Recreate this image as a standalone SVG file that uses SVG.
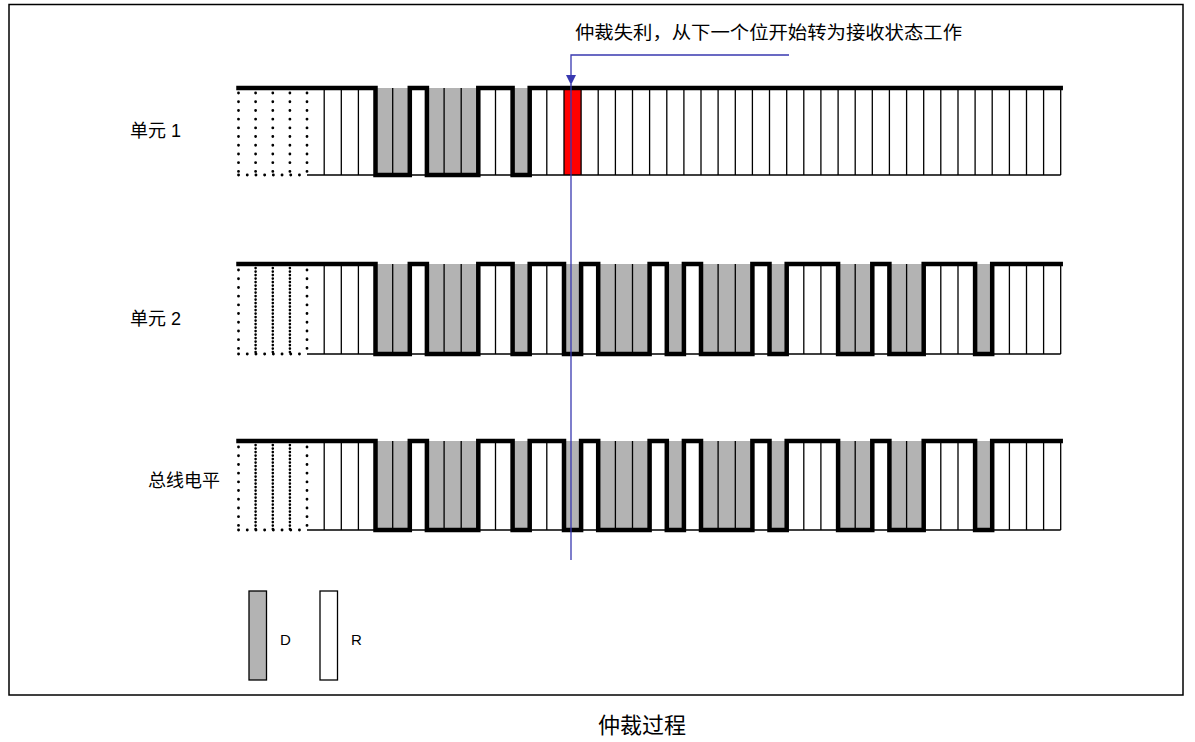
<svg xmlns="http://www.w3.org/2000/svg" width="1195" height="742" viewBox="0 0 1195 742">
<style>
.txt{font-family:"Liberation Sans","Noto Sans CJK SC",sans-serif;fill:#000}
.sig{fill:none;stroke:#000;stroke-width:4.5;stroke-linejoin:miter;stroke-linecap:square}
.grid{fill:none;stroke:#000;stroke-width:1.3}
.dot{fill:none;stroke:#000;stroke-width:2.8;stroke-linecap:round;stroke-dasharray:0.1 8.6}
.dot2{fill:none;stroke:#000;stroke-width:2.6;stroke-linecap:round;stroke-dasharray:0.1 3.4}
.d{fill:#b3b3b3}
.blue{fill:none;stroke:#3838b0;stroke-width:1.3}
</style>
<rect x="9" y="4.5" width="1174" height="690.5" fill="none" stroke="#000" stroke-width="1.5"/>

<g id="node-label-unit1"><text class="txt" x="130" y="137" font-size="18">单元 1</text></g>
<g id="node-label-unit2"><text class="txt" x="130" y="325" font-size="18">单元 2</text></g>
<g id="node-label-bus"><text class="txt" x="148" y="487" font-size="18">总线电平</text></g>

<g id="node-unit1">
<rect class="d" x="375.5" y="88" width="34.3" height="87"/>
<rect class="d" x="426.9" y="88" width="51.4" height="87"/>
<rect class="d" x="512.6" y="88" width="17.1" height="87"/>
<rect x="564" y="88" width="17.1" height="87" fill="#ff0000"/>
<path class="grid" d="M324.2,88V175 M341.3,88V175 M358.4,88V175 M375.5,88V175 M392.7,88V175 M409.8,88V175 M426.9,88V175 M444.1,88V175 M461.2,88V175 M478.3,88V175 M495.5,88V175 M512.6,88V175 M529.7,88V175 M546.8,88V175 M564,88V175 M581.1,88V175 M598.2,88V175 M615.4,88V175 M632.5,88V175 M649.6,88V175 M666.8,88V175 M683.9,88V175 M701,88V175 M718.1,88V175 M735.3,88V175 M752.4,88V175 M769.5,88V175 M786.7,88V175 M803.8,88V175 M820.9,88V175 M838.1,88V175 M855.2,88V175 M872.3,88V175 M889.4,88V175 M906.6,88V175 M923.7,88V175 M940.8,88V175 M958,88V175 M975.1,88V175 M992.2,88V175 M1009.4,88V175 M1026.5,88V175 M1043.6,88V175 M1060.7,88V175 M307,175H1060.7"/>
<path class="dot" d="M238.5,93V175 M255.6,93V175 M272.8,93V175 M289.9,93V175 M307,93V175 M238.5,175H307"/>
<path class="sig" d="M238.5,88H375.5V175H409.8V88H426.9V175H478.3V88H512.6V175H529.7V88H1060.7"/>
</g>

<g id="node-unit2">
<rect class="d" x="375.5" y="264" width="34.3" height="90"/>
<rect class="d" x="426.9" y="264" width="51.4" height="90"/>
<rect class="d" x="512.6" y="264" width="17.1" height="90"/>
<rect class="d" x="564" y="264" width="17.1" height="90"/>
<rect class="d" x="598.2" y="264" width="51.4" height="90"/>
<rect class="d" x="666.8" y="264" width="17.1" height="90"/>
<rect class="d" x="701" y="264" width="51.4" height="90"/>
<rect class="d" x="769.5" y="264" width="17.1" height="90"/>
<rect class="d" x="838.1" y="264" width="34.2" height="90"/>
<rect class="d" x="889.4" y="264" width="34.3" height="90"/>
<rect class="d" x="975.1" y="264" width="17.1" height="90"/>
<path class="grid" d="M324.2,264V354 M341.3,264V354 M358.4,264V354 M375.5,264V354 M392.7,264V354 M409.8,264V354 M426.9,264V354 M444.1,264V354 M461.2,264V354 M478.3,264V354 M495.5,264V354 M512.6,264V354 M529.7,264V354 M546.8,264V354 M564,264V354 M581.1,264V354 M598.2,264V354 M615.4,264V354 M632.5,264V354 M649.6,264V354 M666.8,264V354 M683.9,264V354 M701,264V354 M718.1,264V354 M735.3,264V354 M752.4,264V354 M769.5,264V354 M786.7,264V354 M803.8,264V354 M820.9,264V354 M838.1,264V354 M855.2,264V354 M872.3,264V354 M889.4,264V354 M906.6,264V354 M923.7,264V354 M940.8,264V354 M958,264V354 M975.1,264V354 M992.2,264V354 M1009.4,264V354 M1026.5,264V354 M1043.6,264V354 M1060.7,264V354 M307,354H1060.7"/>
<path class="dot" d="M238.5,270V354 M307,270V354 M238.5,354H307"/>
<path class="dot2" d="M255.6,268V354 M272.8,268V354 M289.9,268V354"/>
<path class="sig" d="M238.5,264H375.5V354H409.8V264H426.9V354H478.3V264H512.6V354H529.7V264H564V354H581.1V264H598.2V354H649.6V264H666.8V354H683.9V264H701V354H752.4V264H769.5V354H786.7V264H838.1V354H872.3V264H889.4V354H923.7V264H975.1V354H992.2V264H1060.7"/>
</g>

<g id="node-bus">
<rect class="d" x="375.5" y="441" width="34.3" height="89"/>
<rect class="d" x="426.9" y="441" width="51.4" height="89"/>
<rect class="d" x="512.6" y="441" width="17.1" height="89"/>
<rect class="d" x="564" y="441" width="17.1" height="89"/>
<rect class="d" x="598.2" y="441" width="51.4" height="89"/>
<rect class="d" x="666.8" y="441" width="17.1" height="89"/>
<rect class="d" x="701" y="441" width="51.4" height="89"/>
<rect class="d" x="769.5" y="441" width="17.1" height="89"/>
<rect class="d" x="838.1" y="441" width="34.2" height="89"/>
<rect class="d" x="889.4" y="441" width="34.3" height="89"/>
<rect class="d" x="975.1" y="441" width="17.1" height="89"/>
<path class="grid" d="M324.2,441V530 M341.3,441V530 M358.4,441V530 M375.5,441V530 M392.7,441V530 M409.8,441V530 M426.9,441V530 M444.1,441V530 M461.2,441V530 M478.3,441V530 M495.5,441V530 M512.6,441V530 M529.7,441V530 M546.8,441V530 M564,441V530 M581.1,441V530 M598.2,441V530 M615.4,441V530 M632.5,441V530 M649.6,441V530 M666.8,441V530 M683.9,441V530 M701,441V530 M718.1,441V530 M735.3,441V530 M752.4,441V530 M769.5,441V530 M786.7,441V530 M803.8,441V530 M820.9,441V530 M838.1,441V530 M855.2,441V530 M872.3,441V530 M889.4,441V530 M906.6,441V530 M923.7,441V530 M940.8,441V530 M958,441V530 M975.1,441V530 M992.2,441V530 M1009.4,441V530 M1026.5,441V530 M1043.6,441V530 M1060.7,441V530 M307,530H1060.7"/>
<path class="dot" d="M238.5,447V530 M307,447V530 M238.5,530H307"/>
<path class="dot2" d="M255.6,445V530 M272.8,445V530 M289.9,445V530"/>
<path class="sig" d="M238.5,441H375.5V530H409.8V441H426.9V530H478.3V441H512.6V530H529.7V441H564V530H581.1V441H598.2V530H649.6V441H666.8V530H683.9V441H701V530H752.4V441H769.5V530H786.7V441H838.1V530H872.3V441H889.4V530H923.7V441H975.1V530H992.2V441H1060.7"/>
</g>

<g id="node-annotation"><text class="txt" x="575" y="39" font-size="18" textLength="387" lengthAdjust="spacingAndGlyphs">仲裁失利，从下一个位开始转为接收状态工作</text></g>

<g id="connectors">
<path class="blue" d="M789,55H571V76"/>
<polygon points="566,75 576,75 571,85" fill="#3838b0"/>
<line class="blue" x1="571" y1="84" x2="571" y2="560"/>
</g>

<g id="node-legend-D">
<rect x="249" y="591" width="17.5" height="89" fill="#b3b3b3" stroke="#000" stroke-width="1.3"/>
<text class="txt" x="280" y="645" font-size="15">D</text>
</g>
<g id="node-legend-R">
<rect x="320" y="591" width="17.5" height="89" fill="#fff" stroke="#000" stroke-width="1.3"/>
<text class="txt" x="351" y="645" font-size="15">R</text>
</g>

<g id="node-title"><text class="txt" x="598" y="733" font-size="22">仲裁过程</text></g>
</svg>
